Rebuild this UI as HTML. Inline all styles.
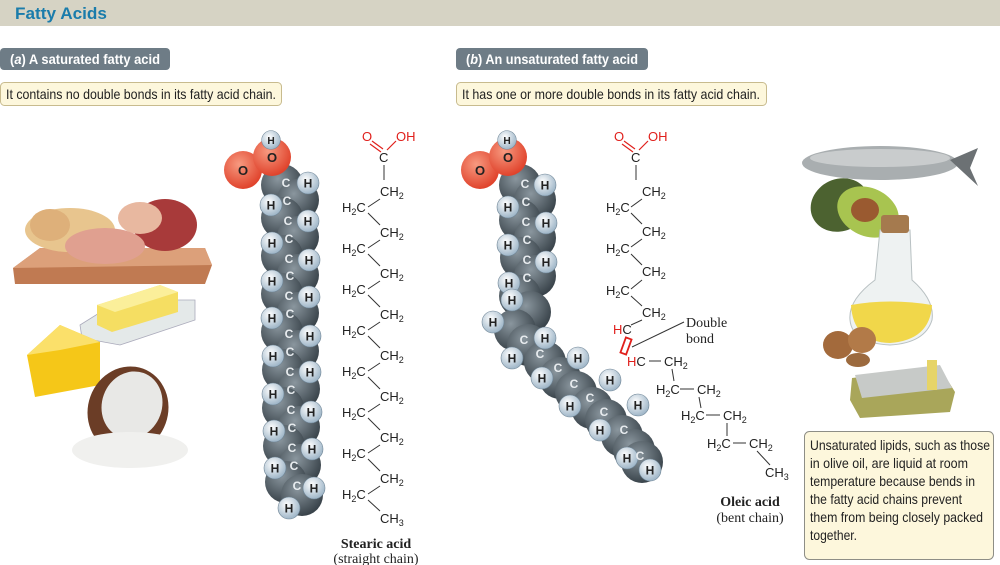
<!DOCTYPE html>
<html><head><meta charset="utf-8"><style>
html,body{margin:0;padding:0;background:#fff;}
svg{display:block}
text{font-family:"Liberation Sans",sans-serif}
.f{font-family:"Liberation Sans",sans-serif;font-size:13px;fill:#222}
.s{font-size:9px}
.r{fill:#e0201c}
.sr{font-family:"Liberation Serif",serif;font-size:14px;fill:#222}
</style></head><body>
<svg width="1000" height="565" viewBox="0 0 1000 565" xmlns="http://www.w3.org/2000/svg">
<defs>
<radialGradient id="gC" cx="40%" cy="35%" r="65%"><stop offset="0" stop-color="#8a969e"/><stop offset="1" stop-color="#3a444b"/></radialGradient>
<radialGradient id="gH" cx="40%" cy="35%" r="65%"><stop offset="0" stop-color="#fff"/><stop offset="1" stop-color="#9fb6c8"/></radialGradient>
<radialGradient id="gO" cx="40%" cy="35%" r="65%"><stop offset="0" stop-color="#f79a80"/><stop offset="1" stop-color="#e0432c"/></radialGradient>
<g id="H"><circle r="11" fill="url(#gH)" stroke="#6f8596" stroke-width="0.6"/><text y="4.5" text-anchor="middle" font-size="12" font-weight="bold" fill="#222">H</text></g>
<g id="C"><circle r="21" fill="url(#gC)"/></g>
</defs>
<!-- header -->
<rect x="0" y="0" width="1000" height="26" fill="#d6d3c4"/>
<text x="15" y="19" font-size="17" font-weight="bold" fill="#1a7cab" textLength="92" lengthAdjust="spacingAndGlyphs">Fatty Acids</text>
<!-- pills -->
<rect x="0" y="48" width="170" height="22" rx="4" fill="#6e7c86"/>
<text x="10" y="64" font-size="14" font-weight="bold" fill="#fff" textLength="150" lengthAdjust="spacingAndGlyphs">(<tspan font-style="italic">a</tspan>) A saturated fatty acid</text>
<rect x="456" y="48" width="192" height="22" rx="4" fill="#6e7c86"/>
<text x="466" y="64" font-size="14" font-weight="bold" fill="#fff" textLength="172" lengthAdjust="spacingAndGlyphs">(<tspan font-style="italic">b</tspan>) An unsaturated fatty acid</text>
<rect x="0.5" y="82.5" width="281" height="23" rx="4" fill="#fdf7dc" stroke="#c8bb8e"/>
<text x="6" y="99" font-size="14" fill="#222" textLength="270" lengthAdjust="spacingAndGlyphs">It contains no double bonds in its fatty acid chain.</text>
<rect x="456.5" y="82.5" width="310" height="23" rx="4" fill="#fdf7dc" stroke="#c8bb8e"/>
<text x="462" y="99" font-size="14" fill="#222" textLength="298" lengthAdjust="spacingAndGlyphs">It has one or more double bonds in its fatty acid chain.</text>

<!-- left food -->
<polygon points="13,268 40,248 205,248 212,265 205,284 15,284" fill="#c07a52"/>
<polygon points="13,268 40,248 205,248 212,265" fill="#dca07a"/>
<ellipse cx="70" cy="230" rx="45" ry="22" fill="#e8c58e"/>
<ellipse cx="50" cy="225" rx="20" ry="16" fill="#deb07a"/>
<ellipse cx="165" cy="225" rx="32" ry="26" fill="#a83a3a"/>
<ellipse cx="140" cy="218" rx="22" ry="16" fill="#e8b8a0"/>
<ellipse cx="105" cy="246" rx="40" ry="18" fill="#e0a090"/>
<polygon points="80,325 120,300 195,300 195,320 120,345 82,338" fill="#e4e9e9" stroke="#aab" stroke-width="0.8"/>
<polygon points="97,305 160,285 178,292 178,312 112,332 97,325" fill="#f5de62"/>
<polygon points="97,305 160,285 178,292 115,312" fill="#fbef9a"/>
<polygon points="27,355 60,325 100,342 100,385 35,397" fill="#f5c718"/>
<polygon points="27,355 60,325 100,342 60,350" fill="#fbe06a"/>
<ellipse cx="128" cy="410" rx="40" ry="44" transform="rotate(20 128 410)" fill="#6b3d26"/>
<ellipse cx="132" cy="405" rx="30" ry="34" transform="rotate(20 132 405)" fill="#e8e8e6"/>
<ellipse cx="130" cy="450" rx="58" ry="18" fill="#f0f0ee"/>

<!-- stearic space filling -->
<g>
<use href="#C" x="282" y="185"/><use href="#C" x="298" y="200"/><use href="#C" x="282" y="218"/><use href="#C" x="298" y="237"/><use href="#C" x="282" y="256"/><use href="#C" x="298" y="275"/><use href="#C" x="282" y="294"/><use href="#C" x="298" y="313"/><use href="#C" x="282" y="332"/><use href="#C" x="298" y="351"/><use href="#C" x="283" y="370"/><use href="#C" x="299" y="389"/><use href="#C" x="283" y="408"/><use href="#C" x="299" y="427"/><use href="#C" x="284" y="446"/><use href="#C" x="300" y="465"/><use href="#C" x="286" y="482"/><use href="#C" x="302" y="495"/>
<circle cx="243" cy="170" r="19" fill="url(#gO)"/><circle cx="272" cy="157" r="19" fill="url(#gO)"/>
<text x="243" y="175" text-anchor="middle" font-size="13" font-weight="bold" fill="#222">O</text>
<text x="272" y="162" text-anchor="middle" font-size="13" font-weight="bold" fill="#222">O</text>
<g transform="translate(271,140) scale(0.85)"><use href="#H"/></g>
<use href="#H" x="308" y="183"/><use href="#H" x="271" y="205"/><use href="#H" x="308" y="221"/><use href="#H" x="272" y="243"/><use href="#H" x="309" y="260"/><use href="#H" x="272" y="281"/><use href="#H" x="309" y="297"/><use href="#H" x="272" y="318"/><use href="#H" x="310" y="336"/><use href="#H" x="273" y="356"/><use href="#H" x="310" y="372"/><use href="#H" x="273" y="394"/><use href="#H" x="311" y="412"/><use href="#H" x="274" y="431"/><use href="#H" x="312" y="449"/><use href="#H" x="275" y="468"/><use href="#H" x="314" y="488"/><use href="#H" x="289" y="508"/>
<g font-size="12" font-weight="bold" fill="#e8ecef" text-anchor="middle">
<text x="286" y="187">C</text><text x="287" y="205">C</text><text x="288" y="225">C</text><text x="289" y="243">C</text><text x="289" y="263">C</text><text x="290" y="280">C</text><text x="289" y="300">C</text><text x="290" y="318">C</text><text x="289" y="338">C</text><text x="290" y="356">C</text><text x="290" y="376">C</text><text x="291" y="394">C</text><text x="291" y="414">C</text><text x="292" y="432">C</text><text x="292" y="452">C</text><text x="294" y="470">C</text><text x="297" y="490">C</text>
</g>
</g>

<!-- stearic formula -->
<g class="f">
<text x="362" y="141" class="r">O</text><text x="396" y="141" class="r">OH</text>
<line x1="370" y1="144" x2="381" y2="152" stroke="#e0201c" stroke-width="1.2"/><line x1="372" y1="141" x2="383" y2="149" stroke="#e0201c" stroke-width="1.2"/>
<line x1="396" y1="141" x2="387" y2="150" stroke="#e0201c" stroke-width="1.2"/>
<text x="379" y="162">C</text>
<line x1="384" y1="165" x2="384" y2="180" stroke="#333"/>
</g>
<g class="f">
<text x="380" y="196">CH<tspan class="s" dy="3">2</tspan></text>
<text x="342" y="212">H<tspan class="s" dy="3">2</tspan><tspan dy="-3">C</tspan></text>
<text x="380" y="237">CH<tspan class="s" dy="3">2</tspan></text>
<text x="342" y="253">H<tspan class="s" dy="3">2</tspan><tspan dy="-3">C</tspan></text>
<text x="380" y="278">CH<tspan class="s" dy="3">2</tspan></text>
<text x="342" y="294">H<tspan class="s" dy="3">2</tspan><tspan dy="-3">C</tspan></text>
<text x="380" y="319">CH<tspan class="s" dy="3">2</tspan></text>
<text x="342" y="335">H<tspan class="s" dy="3">2</tspan><tspan dy="-3">C</tspan></text>
<text x="380" y="360">CH<tspan class="s" dy="3">2</tspan></text>
<text x="342" y="376">H<tspan class="s" dy="3">2</tspan><tspan dy="-3">C</tspan></text>
<text x="380" y="401">CH<tspan class="s" dy="3">2</tspan></text>
<text x="342" y="417">H<tspan class="s" dy="3">2</tspan><tspan dy="-3">C</tspan></text>
<text x="380" y="442">CH<tspan class="s" dy="3">2</tspan></text>
<text x="342" y="458">H<tspan class="s" dy="3">2</tspan><tspan dy="-3">C</tspan></text>
<text x="380" y="483">CH<tspan class="s" dy="3">2</tspan></text>
<text x="342" y="499">H<tspan class="s" dy="3">2</tspan><tspan dy="-3">C</tspan></text>
<text x="380" y="523">CH<tspan class="s" dy="3">3</tspan></text>
</g>
<path d="M380,199 L368,207 M368,213 L380,225 M380,240 L368,248 M368,254 L380,266 M380,281 L368,289 M368,295 L380,307 M380,322 L368,330 M368,336 L380,348 M380,363 L368,371 M368,377 L380,389 M380,404 L368,412 M368,418 L380,430 M380,445 L368,453 M368,459 L380,471 M380,486 L368,494 M368,500 L380,511" stroke="#333" stroke-width="1" fill="none"/>
<text x="376" y="548" class="sr" text-anchor="middle" font-weight="bold">Stearic acid</text>
<text x="376" y="563" class="sr" text-anchor="middle">(straight chain)</text>

<!-- oleic space filling -->
<g>
<use href="#C" x="520" y="185"/><use href="#C" x="535" y="200"/><use href="#C" x="520" y="220"/><use href="#C" x="535" y="238"/><use href="#C" x="521" y="258"/><use href="#C" x="535" y="276"/><use href="#C" x="520" y="296"/><use href="#C" x="530" y="312"/><use href="#C" x="515" y="330"/><use href="#C" x="528" y="345"/>
<use href="#C" x="545" y="362"/><use href="#C" x="560" y="378"/><use href="#C" x="576" y="392"/><use href="#C" x="592" y="408"/><use href="#C" x="606" y="420"/><use href="#C" x="622" y="436"/><use href="#C" x="634" y="450"/><use href="#C" x="642" y="462"/>
<circle cx="480" cy="170" r="19" fill="url(#gO)"/><circle cx="508" cy="157" r="19" fill="url(#gO)"/>
<text x="480" y="175" text-anchor="middle" font-size="13" font-weight="bold" fill="#222">O</text>
<text x="508" y="162" text-anchor="middle" font-size="13" font-weight="bold" fill="#222">O</text>
<g transform="translate(507,140) scale(0.85)"><use href="#H"/></g>
<use href="#H" x="545" y="185"/><use href="#H" x="508" y="207"/><use href="#H" x="546" y="223"/><use href="#H" x="508" y="245"/><use href="#H" x="546" y="262"/><use href="#H" x="509" y="283"/><use href="#H" x="512" y="300"/><use href="#H" x="493" y="322"/><use href="#H" x="512" y="358"/><use href="#H" x="542" y="378"/><use href="#H" x="570" y="406"/><use href="#H" x="600" y="430"/><use href="#H" x="627" y="458"/><use href="#H" x="545" y="338"/><use href="#H" x="578" y="358"/><use href="#H" x="610" y="380"/><use href="#H" x="638" y="405"/><use href="#H" x="650" y="470"/>
<g font-size="12" font-weight="bold" fill="#e8ecef" text-anchor="middle">
<text x="525" y="188">C</text><text x="526" y="206">C</text><text x="526" y="226">C</text><text x="527" y="244">C</text><text x="527" y="264">C</text><text x="527" y="282">C</text><text x="524" y="344">C</text><text x="540" y="358">C</text><text x="558" y="372">C</text><text x="574" y="388">C</text><text x="590" y="402">C</text><text x="604" y="416">C</text><text x="624" y="434">C</text><text x="640" y="460">C</text>
</g>
</g>

<!-- oleic formula -->
<g class="f">
<text x="614" y="141" class="r">O</text><text x="648" y="141" class="r">OH</text>
<line x1="622" y1="144" x2="633" y2="152" stroke="#e0201c" stroke-width="1.2"/><line x1="624" y1="141" x2="635" y2="149" stroke="#e0201c" stroke-width="1.2"/>
<line x1="648" y1="141" x2="639" y2="150" stroke="#e0201c" stroke-width="1.2"/>
<text x="631" y="162">C</text>
<line x1="636" y1="165" x2="636" y2="180" stroke="#333"/>
<text x="642" y="196">CH<tspan class="s" dy="3">2</tspan></text>
<text x="606" y="212">H<tspan class="s" dy="3">2</tspan><tspan dy="-3">C</tspan></text>
<text x="642" y="236">CH<tspan class="s" dy="3">2</tspan></text>
<text x="606" y="253">H<tspan class="s" dy="3">2</tspan><tspan dy="-3">C</tspan></text>
<text x="642" y="276">CH<tspan class="s" dy="3">2</tspan></text>
<text x="606" y="295">H<tspan class="s" dy="3">2</tspan><tspan dy="-3">C</tspan></text>
<text x="642" y="317">CH<tspan class="s" dy="3">2</tspan></text>
<text x="613" y="334"><tspan class="r">H</tspan>C</text>
<text x="627" y="366"><tspan class="r">H</tspan>C</text>
<text x="664" y="366">CH<tspan class="s" dy="3">2</tspan></text>
<text x="656" y="394">H<tspan class="s" dy="3">2</tspan><tspan dy="-3">C</tspan></text>
<text x="697" y="394">CH<tspan class="s" dy="3">2</tspan></text>
<text x="681" y="420">H<tspan class="s" dy="3">2</tspan><tspan dy="-3">C</tspan></text>
<text x="723" y="420">CH<tspan class="s" dy="3">2</tspan></text>
<text x="707" y="448">H<tspan class="s" dy="3">2</tspan><tspan dy="-3">C</tspan></text>
<text x="749" y="448">CH<tspan class="s" dy="3">2</tspan></text>
<text x="765" y="477">CH<tspan class="s" dy="3">3</tspan></text>
</g>
<path d="M642,199 L631,207 M631,213 L642,224 M642,239 L631,247 M631,254 L642,265 M642,280 L631,289 M631,296 L642,306 M642,320 L631,325 M649,361 L661,361 M672,369 L674,381 M680,389 L694,389 M699,397 L701,408 M706,415 L720,415 M727,423 L727,436 M733,443 L746,443 M757,451 L770,465" stroke="#333" stroke-width="1" fill="none"/>
<rect x="623" y="338" width="6" height="16" transform="rotate(20 626 346)" fill="none" stroke="#e0201c" stroke-width="1.8"/>
<line x1="632" y1="347" x2="684" y2="322" stroke="#333"/>
<text x="686" y="327" class="sr">Double</text>
<text x="686" y="343" class="sr">bond</text>
<text x="750" y="506" class="sr" text-anchor="middle" font-weight="bold">Oleic acid</text>
<text x="750" y="522" class="sr" text-anchor="middle">(bent chain)</text>

<!-- right food -->
<ellipse cx="880" cy="163" rx="78" ry="17" fill="#a9aeb0"/>
<ellipse cx="880" cy="158" rx="70" ry="9" fill="#c9cccd"/>
<polygon points="950,160 978,148 970,168 978,186" fill="#6c7174"/>
<ellipse cx="840" cy="205" rx="30" ry="26" transform="rotate(-25 840 205)" fill="#4c6230"/>
<ellipse cx="868" cy="212" rx="32" ry="24" transform="rotate(25 868 212)" fill="#a8c450"/>
<ellipse cx="865" cy="210" rx="14" ry="12" fill="#9a5a30"/>
<path d="M880,230 L910,230 L912,280 Q935,300 932,320 Q925,343 890,345 Q852,343 850,320 Q848,300 875,280 Z" fill="#eef2f2" stroke="#b8c0c2"/>
<path d="M851,305 Q890,298 932,305 Q930,340 890,343 Q853,342 851,305 Z" fill="#f1d74a"/>
<rect x="881" y="215" width="28" height="18" rx="3" fill="#a57a4e"/>
<ellipse cx="838" cy="345" rx="15" ry="14" fill="#a36a3c"/>
<ellipse cx="862" cy="340" rx="14" ry="13" fill="#b27a48"/>
<ellipse cx="858" cy="360" rx="12" ry="7" fill="#9c6a3e"/>
<path d="M852,378 L940,368 L955,392 L950,412 L860,418 L850,400 Z" fill="#a9a65a"/>
<path d="M855,375 L940,365 L952,388 L862,398 Z" fill="#c7cac8"/>
<rect x="927" y="360" width="10" height="30" fill="#e6d468"/>

<!-- note box -->
<rect x="804.5" y="431.5" width="189" height="128" rx="5" fill="#fdf7dc" stroke="#8e8e86"/>
<g font-size="14" fill="#222">
<text x="810" y="450" textLength="180" lengthAdjust="spacingAndGlyphs">Unsaturated lipids, such as those</text>
<text x="810" y="468" textLength="158" lengthAdjust="spacingAndGlyphs">in olive oil, are liquid at room</text>
<text x="810" y="486" textLength="165" lengthAdjust="spacingAndGlyphs">temperature because bends in</text>
<text x="810" y="504" textLength="152" lengthAdjust="spacingAndGlyphs">the fatty acid chains prevent</text>
<text x="810" y="522" textLength="173" lengthAdjust="spacingAndGlyphs">them from being closely packed</text>
<text x="810" y="540" textLength="47" lengthAdjust="spacingAndGlyphs">together.</text>
</g>
</svg>
</body></html>
